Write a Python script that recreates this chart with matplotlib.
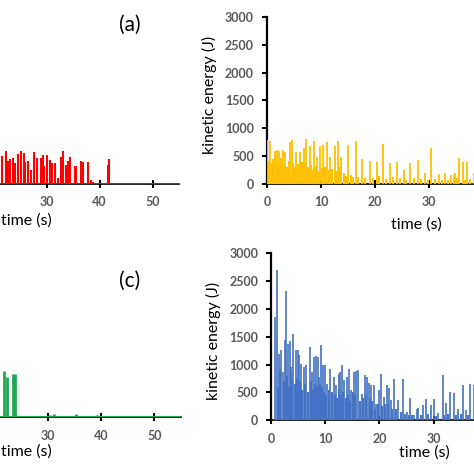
import matplotlib
matplotlib.use("Agg")
import matplotlib.pyplot as plt

# ---------------- data ----------------
# panel (a) red
red_t = [21.6, 22.4, 22.7, 23.1, 23.7, 24.0, 24.6, 25.2, 25.7, 26.0, 26.5, 27.0, 27.6, 28.2,
         28.9, 29.4, 29.6, 30.1, 30.6, 31.1, 31.6, 32.1, 32.7, 33.2, 33.6, 34.1, 34.5, 35.3,
         35.6, 36.5, 36.9, 37.8, 38.4, 38.8, 41.6, 41.8, 46.0, 50.0]
red_E = [503, 593, 413, 443, 461, 380, 539, 598, 551, 401, 419, 251, 575, 473,
         473, 527, 323, 515, 431, 383, 383, 113, 479, 598, 341, 419, 479, 323,
         323, 419, 401, 389, 72, 30, 341, 443, 15, 15]

# panel (b) yellow
yel_t = [0.07, 0.6, 1.4, 1.8, 2.2, 2.9, 3.4, 4.3, 4.6, 5.4, 6.2, 6.8, 7.3, 7.9, 8.7, 9.3,
         9.9, 10.4, 11.1, 11.7, 12.5, 13.1, 13.7, 15.0, 16.4, 17.6, 19.0, 20.3, 21.5, 22.7,
         24.1, 25.3, 26.5, 27.9, 29.3, 30.4, 31.8, 33.0, 34.0, 34.6, 34.9, 35.5, 36.3, 37.0,
         38.3]
yel_E = [790, 770, 600, 610, 600, 610, 580, 750, 790, 580, 580, 640, 810, 680, 770, 490,
         680, 700, 760, 490, 680, 770, 490, 700, 770, 450, 420, 390, 720, 380,
         390, 250, 380, 430, 190, 640, 180, 190, 170, 170, 200, 460, 400, 400,
         190]
yel_minor_t = [0.3, 0.9, 1.2, 1.6, 2.0, 2.5, 3.1, 3.7, 4.0, 4.9, 5.1, 5.7, 6.0, 6.5, 7.0,
               7.6, 8.2, 8.5, 9.0, 9.6, 10.1, 10.7, 11.4, 12.0, 12.8, 13.4, 14.2, 14.6,
               15.5, 16.0, 16.9, 18.2, 19.6, 20.8, 22.1, 23.3, 24.6, 25.8, 27.2, 28.6,
               29.8, 31.1, 32.4, 33.6, 35.2, 36.7, 37.6]
yel_minor_E = [420, 380, 450, 400, 350, 470, 330, 300, 420, 380, 300, 360, 280, 400, 320,
               300, 350, 260, 330, 240, 280, 300, 250, 270, 240, 300, 200, 150,
               160, 130, 120, 110, 100, 140, 90, 120, 100, 80, 110, 90,
               70, 90, 80, 70, 100, 80, 90]

# panel (c) green
grn_t = [21.9, 22.3, 23.5, 23.8, 25.5, 26.5, 27.5, 28.5, 29.5, 30.5, 31.1, 32.3, 35.4, 39.2, 40.7]
grn_E = [826, 724, 772, 772, 20, 25, 20, 25, 20, 30, 60, 25, 60, 30, 25]

# panel (d) blue
blu_t = [0.74, 1.05, 1.4, 1.85, 2.1, 2.5, 2.7, 3.0, 3.4, 3.7, 4.1, 4.5, 4.9, 5.2, 5.5, 6.0,
         6.5, 7.1, 7.5, 7.9, 8.3, 8.6, 8.9, 9.2, 9.55, 10.0, 10.3, 10.9, 11.5, 12.0, 12.45,
         12.75, 13.1, 13.5, 14.0, 14.4, 14.8, 15.3, 15.7, 16.0, 16.8, 17.25, 17.7, 18.0,
         18.4, 18.9, 19.4, 20.0, 20.3, 20.8, 21.3, 21.75, 22.1, 22.7, 23.5, 24.3, 25.1,
         25.7, 26.4, 26.9, 27.2, 28.0, 28.65, 29.5, 30.1, 30.9, 31.7, 32.3, 33.1, 33.8,
         34.6, 35.4, 36.0, 36.8, 37.5]
blu_E = [1853, 2702, 1195, 1255, 867, 1435, 2319, 1375, 1417, 956, 1554, 1255, 1255, 1165,
         1016, 956, 986, 1315, 867, 1136, 1148, 1136, 777, 1345, 986, 986, 657, 926, 777,
         628, 837, 867, 986, 717, 777, 926, 538, 867, 885, 897, 478, 807, 777, 669,
         628, 628, 299, 538, 837, 418, 640, 586, 359, 747, 371, 747, 149,
         406, 90, 209, 227, 269, 388, 281, 377, 137, 807, 317, 508, 496,
         209, 628, 191, 657, 640]
blu_minor_t = [1.25, 1.6, 2.3, 2.85, 3.2, 3.55, 3.9, 4.3, 4.7, 5.05, 5.35, 5.75, 6.25, 6.8,
               7.3, 7.7, 8.1, 8.45, 8.75, 9.05, 9.4, 9.8, 10.15, 10.6, 11.2, 11.75, 12.2,
               12.6, 12.9, 13.3, 13.75, 14.2, 14.6, 15.05, 15.5, 16.4, 17.0, 17.5, 18.2,
               18.65, 19.1, 19.7, 20.55, 21.05, 21.5, 22.4, 23.1, 23.9, 24.7, 25.4, 26.1,
               27.6, 29.0, 30.5, 32.0, 32.7, 34.2, 35.0, 36.4]
blu_minor_E = [600, 900, 700, 800, 600, 850, 700, 650, 750, 600, 700, 550, 650, 500,
               700, 550, 650, 600, 500, 650, 600, 500, 450, 550, 500, 450, 400,
               550, 450, 500, 400, 450, 350, 500, 450, 350, 400, 450, 400,
               350, 200, 300, 250, 300, 300, 200, 200, 150, 120, 100, 90,
               100, 120, 80, 100, 120, 90, 110, 100]

yticks = [0, 500, 1000, 1500, 2000, 2500, 3000]
xticks_right_visible = [0, 10, 20, 30]
xticks_left_visible = [30, 40, 50]

RED = "#FF0000"
YEL = "#FFC000"
GRN = "#1FA852"
BLU = "#4472C4"
GRAY = "#595959"

plt.rcParams["font.family"] = ["Lato", "DejaVu Sans"]

W = H = 474
fig = plt.figure(figsize=(4.74, 4.74), dpi=100)


def px_axes(x0, y0, x1, y1):
    # x0,x1: left/right pixel; y0: top pixel, y1: bottom pixel (from top)
    return fig.add_axes([x0 / W, 1 - y1 / H, (x1 - x0) / W, (y1 - y0) / H])


def style(ax, show_y, ticks):
    ax.set_xlim(0, 55)
    ax.set_ylim(0, 3000)
    ax.set_xticks(ticks)
    ax.set_yticks(yticks)
    for s in ["top", "right"]:
        ax.spines[s].set_visible(False)
    ax.spines["bottom"].set_linewidth(1.2)
    ax.spines["left"].set_linewidth(1.6)
    ax.spines["left"].set_visible(show_y)
    ax.tick_params(axis="x", direction="inout", length=6, width=1.5, pad=6,
                   labelsize=9, labelcolor=GRAY)
    ax.tick_params(axis="y", direction="out", length=3.5, width=1.5, pad=6,
                   labelsize=9, labelcolor=GRAY)
    for lab in ax.get_xticklabels() + ax.get_yticklabels():
        lab.set_fontweight("bold")
    if not show_y:
        ax.tick_params(axis="y", left=False, labelleft=False)
    ax.patch.set_alpha(0)


# (a)
ax_a = px_axes(-112.5, 17, 179, 184)
style(ax_a, False, xticks_left_visible)
ax_a.axhline(0, color=RED, lw=2.2, zorder=3)
ax_a.vlines(red_t, 0, red_E, color=RED, lw=1.5, zorder=3)

# (b)
ax_b = px_axes(267, 17, 564, 184)
style(ax_b, True, xticks_right_visible)
ax_b.vlines(yel_minor_t, 0, yel_minor_E, color=YEL, lw=1.6, zorder=3)
ax_b.vlines(yel_t, 0, yel_E, color=YEL, lw=1.3, zorder=3)

# (c)
ax_c = px_axes(-112.3, 250, 181, 417)
style(ax_c, False, xticks_left_visible)
ax_c.axhline(0, color=GRN, lw=2.2, zorder=3)
ax_c.vlines(grn_t, 0, grn_E, color=GRN, lw=2.0, zorder=3)

# (d)
ax_d = px_axes(271.3, 253, 568.8, 420.3)
style(ax_d, True, xticks_right_visible)
ax_d.vlines(blu_minor_t, 0, blu_minor_E, color=BLU, lw=1.4, zorder=3)
ax_d.vlines(blu_t, 0, blu_E, color=BLU, lw=1.2, zorder=3)

# labels
fig.text(130 / W, 1 - 25 / H, "(a)", fontsize=15, ha="center", va="center")
fig.text(130 / W, 1 - 281 / H, "(c)", fontsize=15, ha="center", va="center")
fig.text(26 / W, 1 - 221 / H, "time (s)", fontsize=11.5, ha="center", va="center")
fig.text(26 / W, 1 - 452 / H, "time (s)", fontsize=11.5, ha="center", va="center")
fig.text(416 / W, 1 - 225 / H, "time (s)", fontsize=11.5, ha="center", va="center")
fig.text(424 / W, 1 - 453 / H, "time (s)", fontsize=11.5, ha="center", va="center")
fig.text(209 / W, 1 - 95 / H, "kinetic energy (J)", fontsize=11.5, rotation=90,
         ha="center", va="center")
fig.text(213 / W, 1 - 341 / H, "kinetic energy (J)", fontsize=11.5, rotation=90,
         ha="center", va="center")

fig.savefig("out.png", dpi=100)
